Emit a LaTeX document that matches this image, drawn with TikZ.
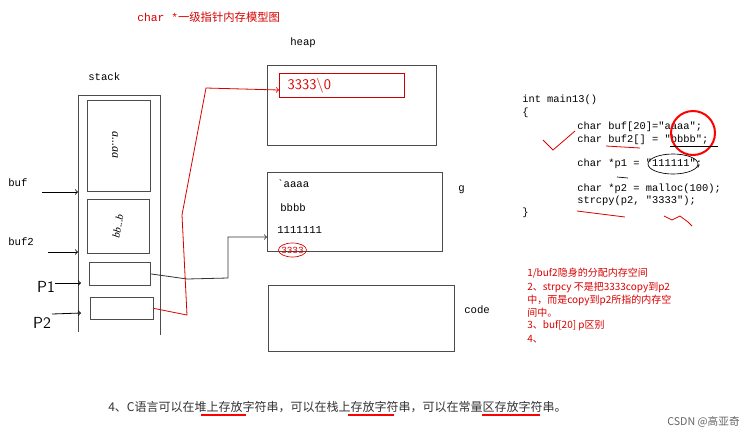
\documentclass[tikz,border=0pt]{standalone}
\usepackage{fontspec}
\setmainfont{Liberation Serif}
\setmonofont{Liberation Mono}
\newfontfamily\cjk{Noto Sans CJK SC}
\begin{document}
\begin{tikzpicture}[x=0.75pt,y=-0.75pt,
  box/.style={draw=black!70,line width=0.6pt},
  redbox/.style={draw=red!80!black,line width=0.6pt},
  lbl/.style={anchor=west,inner sep=0,font=\ttfamily\fontsize{8}{9}\selectfont},
  code/.style={anchor=west,inner sep=0,font=\ttfamily\fontsize{7.8}{9}\selectfont},
  note/.style={anchor=west,inner sep=0,text=red!85!black,font=\cjk\fontsize{7.5}{9}\selectfont},
  arr/.style={->,line width=0.6pt}]
\useasboundingbox (0,0) rectangle (754,440);
\fill[white] (0,0) rectangle (754,440);
\node[note,font=\cjk\fontsize{8.5}{9}\selectfont] (title) at (137,17) {\ttfamily char *\cjk 一级指针内存模型图};
\node[lbl] (heapl) at (290,43) {heap};
\node[lbl] (stackl) at (88,77) {stack};
% stack
\draw[box] (78,332) -- (78,95) -- (160,95) -- (160,335);
\node[box,minimum width=63*0.75pt,minimum height=91*0.75pt,anchor=north west] (b1) at (87,100) {};
\node[box,minimum width=62*0.75pt,minimum height=54*0.75pt,anchor=north west] (b2) at (87,199) {};
\node[box,minimum width=61*0.75pt,minimum height=23*0.75pt,anchor=north west] (b3) at (89,262) {};
\node[box,minimum width=63*0.75pt,minimum height=22*0.75pt,anchor=north west] (b4) at (90,297) {};
\node[rotate=-90,font=\itshape\fontsize{9}{9}\selectfont] (t1) at (115,145) {a...aa};
\node[rotate=80,inner sep=0,font=\itshape\fontsize{8}{8}\selectfont] (t2) at (118,226) {bb...b};
% labels
\node[lbl] (buf) at (8,183) {buf};
\node[lbl] (buf2) at (8,242) {buf2};
\node[font=\sffamily\fontsize{12}{12}\selectfont] (p1) at (46,287) {P1};
\node[font=\sffamily\fontsize{12}{12}\selectfont] (p2) at (42,323) {P2};
\coordinate (sa) at (78,192); \coordinate (sb) at (78,252);
\coordinate (sc) at (81,283); \coordinate (sd) at (81,313);
\draw[arr] (42,192) -- (sa);
\draw[arr] (48,252) -- (sb);
\draw[arr] (55,283) -- (sc);
\draw[arr] (52,314) -- (sd);
% heap
\node[box,minimum width=169*0.75pt,minimum height=80*0.75pt,anchor=north west] (heap) at (267,65) {};
\node[redbox,minimum width=125*0.75pt,minimum height=24*0.75pt,anchor=north west] (h3) at (279,73) {};
\node[anchor=west,text=red!85!black,font=\sffamily\fontsize{11}{11}\selectfont] (h3t) at (283,86) {3333\textbackslash 0};
% g
\node[box,minimum width=175*0.75pt,minimum height=79*0.75pt,anchor=north west] (g) at (267,172) {};
\node[lbl] (aaaa) at (277,184) {`aaaa};
\node[lbl] (bbbb) at (280,208) {bbbb};
\node[lbl] (ones) at (277,230) {1111111};
\node[lbl,text=red!85!black,font=\ttfamily\fontsize{7}{7}\selectfont] (th) at (281,250) {3333};
\draw[red!85!black,line width=0.5pt] (th.center) ellipse [x radius=14,y radius=7];
\node[lbl] (gl) at (458,190) {g};
% code
\node[box,minimum width=186*0.75pt,minimum height=66*0.75pt,anchor=north west] (codeb) at (268,285) {};
\node[lbl] (codel) at (464,310) {code};
% connectors
\coordinate (h1) at (279,90);
\coordinate (g1) at (267,237);
\draw[black!80,line width=0.6pt,->] (b3.east) -- (187,279) -- (228,278) -- (228,237) -- (g1);
\draw[red!85!black,line width=0.6pt,->] (b4.east) -- (187,315) -- (182,215) -- (206,88) -- (h1);
% program text
\node[code] (c1) at (522,100) {int main13()};
\node[code] (c2) at (522,113) {\{};
\node[code] (c3) at (577,127) {char buf[20]="aaaa";};
\node[code] (c4) at (577,140) {char buf2[] = "bbbb";};
\node[code] (c5) at (577,164) {char *p1 = "111111";};
\node[code] (c6) at (577,189) {char *p2 = malloc(100);};
\node[code] (c7) at (577,201) {strcpy(p2, "3333");};
\node[code] (c8) at (522,213) {\}};
\draw[red,line width=1.5pt] (693,133) circle [radius=22];
\draw[black,line width=0.5pt] (673,164) ellipse [x radius=25,y radius=10];
\draw[red!85!black,line width=0.6pt] (543,140) -- (553,150) -- (575,131);
\draw[red!85!black,line width=0.6pt] (606,146) -- (640,148);
\draw[black,line width=0.5pt] (670,146) -- (718,146);
\draw[red!85!black,line width=0.6pt] (577,211) -- (625,217);
\draw[red!85!black,line width=0.6pt] (664,216) -- (672,220) -- (680,216) -- (688,222) -- (692,226);
\draw[black,line width=0.5pt] (617,177) -- (628,178);
% notes
\node[note] (n1) at (527,273) {1/buf2隐身的分配内存空间};
\node[note] (n2) at (527,287) {2、strpcy 不是把3333copy到p2};
\node[note] (n3) at (527,300) {中，而是copy到p2所指的内存空};
\node[note] (n4) at (527,313) {间中。};
\node[note] (n5) at (527,326) {3、buf[20] p区别};
\node[note] (n6) at (527,339) {4、};
\node[note,text=black!80,font=\cjk\fontsize{9}{9}\selectfont] (bottom) at (108,407) {4、C语言可以在堆上存放字符串，可以在栈上存放字符串，可以在常量区存放字符串。};
\draw[red,line width=1pt] (201,415) -- (246,415);
\draw[red,line width=1pt] (348,415) -- (394,415);
\draw[red,line width=1pt] (482,415) -- (540,415);
\node[anchor=east,inner sep=0,text=black!60,font=\cjk\fontsize{8}{9}\selectfont] (wm) at (740,422) {CSDN @高亚奇};
\end{tikzpicture}
\end{document}
